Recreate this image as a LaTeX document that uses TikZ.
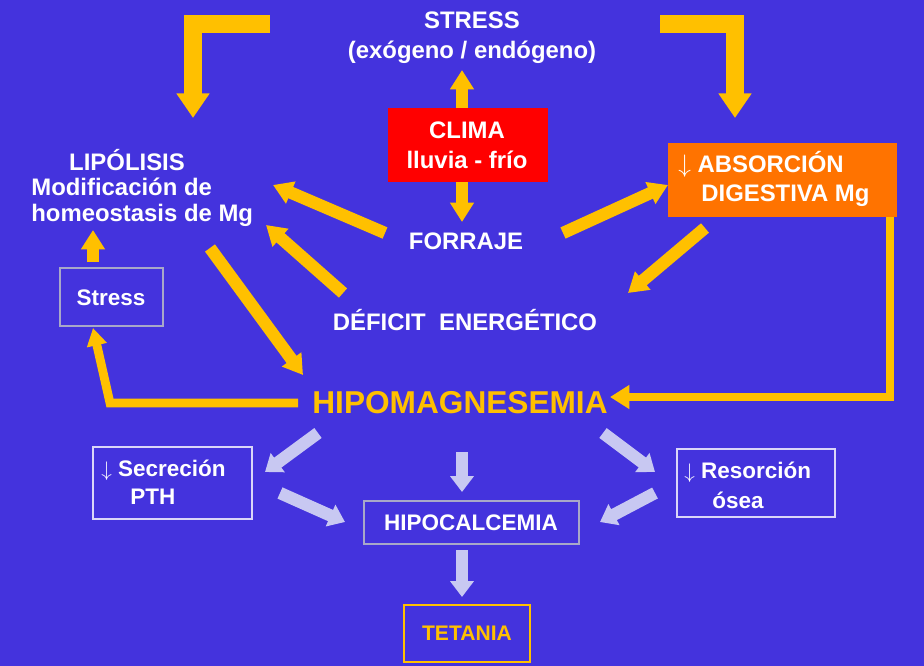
\documentclass[tikz,border=0pt]{standalone}
\usepackage{fontspec}
\setmainfont{Liberation Sans}
\usetikzlibrary{arrows.meta}
\definecolor{bg}{HTML}{4433DD}
\definecolor{yel}{HTML}{FFC000}
\definecolor{lav}{HTML}{C8C8F2}
\definecolor{gbox}{HTML}{A8A8C8}
\begin{document}
\begin{tikzpicture}[x=0.02cm,y=-0.02cm,
 txt/.style={text=white,font=\bfseries\fontsize{13.6pt}{16pt}\selectfont,align=center,inner sep=0},
 sm/.style={font=\bfseries\fontsize{12.8pt}{15pt}\selectfont},
 big/.style={draw=yel,line width=10pt,-{Triangle[width=18pt,length=14pt]}},
 ya/.style={draw=yel,line width=7pt,-{Triangle[width=13pt,length=11pt]}},
 la/.style={draw=lav,line width=7pt,-{Triangle[width=13pt,length=9pt]}}]
\fill[bg] (0,0) rectangle (924,666);
\useasboundingbox (0,0) rectangle (924,666);
% texts
\node[txt] (stress) at (472,20) {STRESS};
\node[txt] (exo) at (472,52) {(exógeno / endógeno)};
\fill[red] (388,108) rectangle (548,182);
\node[txt] (clima) at (467,130) {CLIMA};
\node[txt] (lluvia) at (467,160) {lluvia - frío};
\node[txt] (forraje) at (466,241) {FORRAJE};
\node[txt] (lip) at (127,160) {LIPÓLISIS};
\node[txt,align=left,anchor=west] (mod) at (31,187) {Modificación de};
\node[txt,align=left,anchor=west] (hom) at (31,215) {homeostasis de Mg};
\draw[gbox,line width=0.8pt] (60,268) rectangle (163,326);
\node[txt,sm] (st) at (111,298) {Stress};
\fill[orange!90!red] (668,143) rectangle (897,217);
\node[txt,anchor=west] (abs) at (678,164) {$\downarrow$ ABSORCIÓN};
\node[txt,anchor=west] (dig) at (701,196) {DIGESTIVA Mg};
\node[txt] (def) at (465,320) {DÉFICIT\ \ ENERGÉTICO};
\node[txt,text=yel,font=\bfseries\fontsize{18pt}{21pt}\selectfont] (hipo) at (460,403) {HIPOMAGNESEMIA};
\draw[white!80!bg,line width=0.6pt] (93,447) rectangle (252,519);
\node[txt,anchor=west,sm] (sec) at (101,470) {$\downarrow$ Secreción};
\node[txt,anchor=west,sm] (pth) at (130,497) {PTH};
\draw[white!80!bg,line width=0.6pt] (677,449) rectangle (835,517);
\node[txt,anchor=west,sm] (res) at (684,472) {$\downarrow$ Resorción};
\node[txt,anchor=west,sm] (osea) at (712,500) {ósea};
\draw[gbox,line width=1.5pt] (364,501) rectangle (579,544);
\node[txt,sm] (hc) at (471,523) {HIPOCALCEMIA};
\draw[yel,line width=1.5pt] (404,605) rectangle (530,662);
\node[txt,text=yel,font=\bfseries\fontsize{12pt}{14pt}\selectfont] (tet) at (467,633) {TETANIA};
% big corner arrows
\draw[big] (270,24) -- (193,24) -- (193,118);
\draw[big] (660,24) -- (735,24) -- (735,118);
% yellow arrows
\draw[ya] (462,108) -- (462,70);
\draw[ya] (462,182) -- (462,222);
\draw[ya] (385,233) -- (273,185);
\draw[ya] (563,233) -- (668,185);
\draw[ya] (343,293) -- (266,225);
\draw[ya] (705,228) -- (628,293);
\draw[ya] (210,248) -- (303,375);
\draw[ya] (93,262) -- (93,230);
\draw[draw=yel,line width=5pt,-{Triangle[width=11pt,length=10pt]}] (298,403) -- (110,403) -- (93,328);
\draw[draw=yel,line width=5pt,-{Triangle[width=13pt,length=11pt]}] (890,217) -- (890,397) -- (610,397);
% lavender arrows
\draw[la] (318,433) -- (265,472);
\draw[la] (462,452) -- (462,492);
\draw[la] (603,433) -- (655,472);
\draw[la] (280,493) -- (345,522);
\draw[la] (655,493) -- (600,522);
\draw[la] (462,550) -- (462,597);
\end{tikzpicture}
\end{document}
